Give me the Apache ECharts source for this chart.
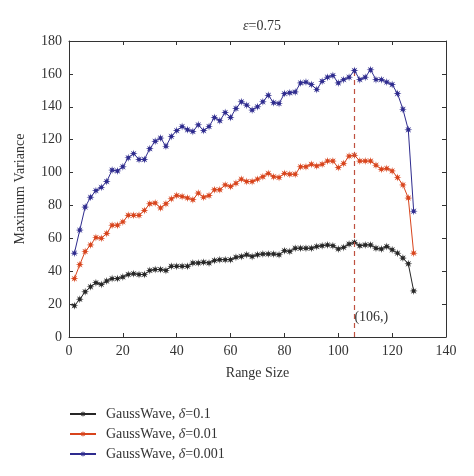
<!DOCTYPE html>
<html style="height: 100%">
<head>
    <meta charset="UTF-8" />
    <title>Maximum Variance vs Range Size</title>
    <script src="https://cdn.jsdelivr.net/npm/echarts@6.0.0/dist/echarts.min.js"></script>
</head>
<body style="height: 100%; margin: 0; background: #fff">
    <div id="main" style="width: 474px; height: 476px; margin: 0"></div>
    <script type="text/javascript">

        var rangeSizes = [2, 4, 6, 8, 10, 12, 14, 16, 18, 20, 22, 24, 26, 28, 30, 32, 34, 36, 38, 40,
            42, 44, 46, 48, 50, 52, 54, 56, 58, 60, 62, 64, 66, 68, 70, 72, 74, 76, 78, 80,
            82, 84, 86, 88, 90, 92, 94, 96, 98, 100, 102, 104, 106, 108, 110, 112, 114, 116, 118, 120,
            122, 124, 126, 128];

        var delta01 = [19, 23, 27.5, 30.5, 33, 32, 34, 35.5, 35.5, 36.5, 38, 38.5, 38, 38, 40.5, 41, 41, 40.5, 43, 43,
            43, 43, 45, 45, 45.5, 45, 46.5, 47, 47, 47, 48.5, 49, 50, 49, 50, 50.5, 50.5, 50.5, 50, 52.5,
            52, 54, 54, 54, 54, 55, 55.5, 56, 55.5, 53.5, 54.5, 56.5, 57.5, 55.5, 56, 56, 54, 53.5, 55, 53,
            51, 48, 44.5, 28];

        var delta001 = [35.5, 44, 52, 56, 60.5, 60, 63, 68, 68, 70, 74, 74, 74, 77, 81, 81.5, 78.5, 81, 84, 86,
            85.5, 84.5, 83.5, 87.5, 85, 86, 89.5, 89.5, 92.5, 91.5, 93.5, 96, 94.5, 94.5, 96, 97.5, 99.5, 97.5, 97, 99.5,
            99, 99, 103.5, 103.5, 105, 104, 105, 107, 107, 103, 105.5, 110, 110.5, 107, 107, 107, 104.5, 102, 102.5, 101,
            97, 92.5, 84.5, 51];

        var delta0001 = [51, 65, 79, 85, 89, 91, 94.5, 101.5, 101, 103.5, 109, 111.5, 108, 108, 114.5, 119, 121, 116, 122, 125.5,
            128, 126, 125, 129, 125.5, 128, 133.5, 131.5, 136.5, 133.5, 139, 143, 141, 138, 140, 143, 147, 142.5, 142, 148,
            148.5, 149, 154.5, 155, 153.5, 150.5, 155.5, 158, 159, 154.5, 156.5, 158, 162, 156.5, 158, 162.5, 156.5, 156.5, 155, 153.5,
            148, 138.5, 126, 76.5];

        var seriesNames = ['GaussWave, δ=0.1', 'GaussWave, δ=0.01', 'GaussWave, δ=0.001'];
        var seriesColors = ['#262626', '#d8441c', '#2e2b8e'];
        var xTicks = [0, 140, 20];
        var yTicks = [0, 180, 20];
        var peakX = 106;
        var peakY = 162;

        // asterisk-like marker
        var pts = [];
        for (var k = 0; k < 16; k++) {
            var r = k % 2 === 0 ? 10 : 4;
            var a = Math.PI * k / 8;
            pts.push((r * Math.sin(a)).toFixed(2) + ',' + (-r * Math.cos(a)).toFixed(2));
        }
        var starPath = 'path://M' + pts.join(' L') + ' Z';

        function pairs(vals) {
            return vals.map(function (v, i) { return [rangeSizes[i], v]; });
        }

        var serif = 'Liberation Serif';
        var axisColor = '#333';

        function axisBase(extra) {
            var base = {
                type: 'value',
                splitLine: { show: false },
                axisLine: { show: true, onZero: false, lineStyle: { color: axisColor, width: 1 } },
                axisTick: { show: true, inside: true, length: 4, lineStyle: { color: axisColor } },
                axisLabel: { color: '#333', fontFamily: serif, fontSize: 14 }
            };
            return Object.assign(base, extra);
        }

        var chart = echarts.init(document.getElementById('main'));
        var dataSets = [delta01, delta001, delta0001];

        var series = dataSets.map(function (vals, i) {
            return {
                name: seriesNames[i],
                type: 'line',
                data: pairs(vals),
                symbol: starPath,
                symbolSize: 8,
                showAllSymbol: true,
                color: seriesColors[i],
                lineStyle: { width: 1, color: seriesColors[i] },
                itemStyle: { color: seriesColors[i] },
                animation: false,
                z: 3 + i
            };
        });

        series[2].markLine = {
            silent: true,
            symbol: 'none',
            label: { show: false },
            lineStyle: { type: [5, 4], color: '#bf5140', width: 1.2 },
            data: [[{ coord: [peakX, 0] }, { coord: [peakX, peakY] }]]
        };
        series[2].markPoint = {
            silent: true,
            symbol: 'circle',
            symbolSize: 0,
            label: {
                show: true,
                position: 'right',
                distance: 0,
                formatter: '(' + peakX + ',)',
                color: '#333',
                fontFamily: serif,
                fontSize: 14
            },
            data: [{ coord: [peakX, 12] }]
        };

        var option = {
            backgroundColor: '#fff',
            animation: false,
            title: {
                text: '{i|ε}{n|=0.75}',
                left: 257,
                textAlign: 'center',
                top: 14,
                textStyle: {
                    fontWeight: 'normal',
                    rich: {
                        i: { fontFamily: serif, fontSize: 14, fontStyle: 'italic', fontWeight: 'normal', color: '#333' },
                        n: { fontFamily: serif, fontSize: 14, fontWeight: 'normal', color: '#333' }
                    }
                }
            },
            grid: { left: 69, right: 28, top: 41, bottom: 139, outerBoundsMode: 'none', containLabel: false },
            legend: {
                orient: 'vertical',
                left: 69,
                top: 407,
                height: 69,
                padding: 0,
                itemWidth: 26,
                itemHeight: 8,
                itemGap: 6,
                data: seriesNames,
                formatter: function (name) {
                    var parts = name.split('δ');
                    return '{n|' + parts[0] + '}{i|δ}{n|' + parts[1] + '}';
                },
                textStyle: {
                    padding: [0, 0, 0, 5],
                    rich: {
                        n: { fontFamily: serif, fontSize: 14, color: '#333' },
                        i: { fontFamily: serif, fontSize: 14, fontStyle: 'italic', color: '#333' }
                    }
                }
            },
            xAxis: [
                axisBase({
                    min: xTicks[0], max: xTicks[1], interval: xTicks[2], position: 'bottom',
                    name: 'Range Size', nameLocation: 'middle', nameGap: 29,
                    nameTextStyle: { fontFamily: serif, fontSize: 14, color: '#333' },
                    axisLabel: { color: '#333', fontFamily: serif, fontSize: 14, margin: 7 }
                }),
                axisBase({
                    min: xTicks[0], max: xTicks[1], interval: xTicks[2], position: 'top',
                    axisLabel: { show: false }
                })
            ],
            yAxis: [
                axisBase({
                    min: yTicks[0], max: yTicks[1], interval: yTicks[2], position: 'left',
                    name: 'Maximum Variance', nameLocation: 'middle', nameGap: 42,
                    nameTextStyle: { fontFamily: serif, fontSize: 14, color: '#333' },
                    axisLabel: { color: '#333', fontFamily: serif, fontSize: 14, margin: 7 }
                }),
                axisBase({
                    min: yTicks[0], max: yTicks[1], interval: yTicks[2], position: 'right',
                    axisLabel: { show: false }
                })
            ],
            series: series
        };

        chart.setOption(option);
    </script>
</body>
</html>
